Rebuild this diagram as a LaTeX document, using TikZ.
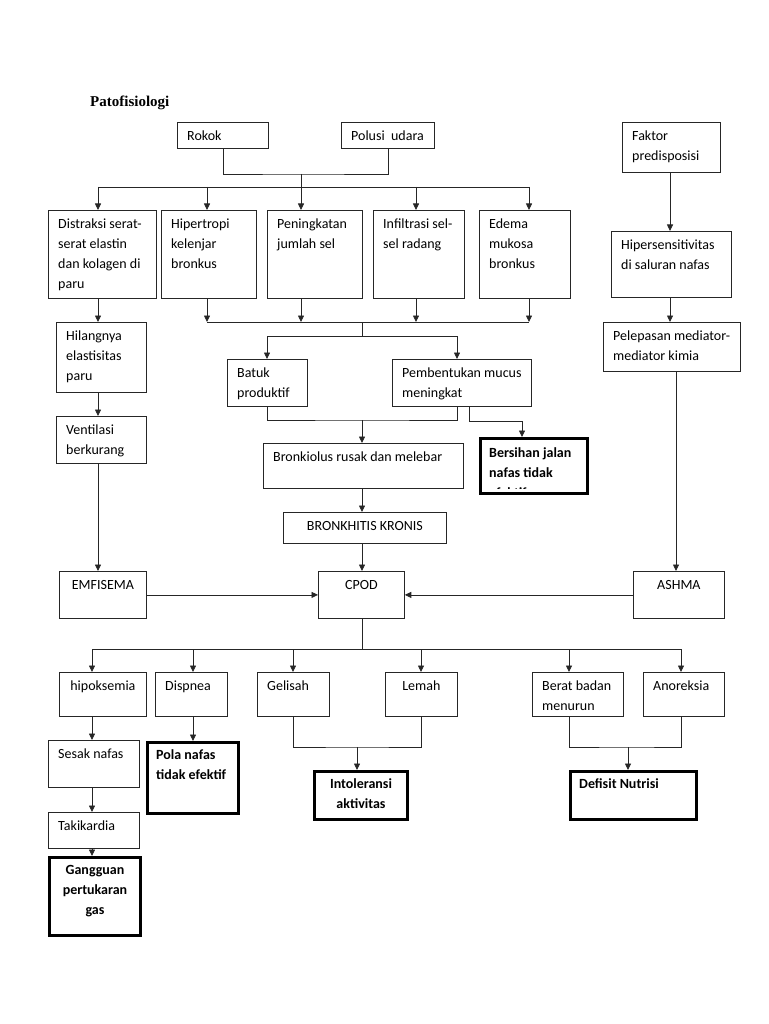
\documentclass[tikz,border=0pt]{standalone}
\usepackage{fontspec}
\setmainfont{Carlito}
\newfontfamily\titlefont{Liberation Serif}
\usetikzlibrary{arrows.meta,calc}

\tikzset{
  ln/.style={draw=black!85, line width=0.8pt},
  arr/.style={ln, -{Triangle[length=6.5pt,width=6pt]}},
  box/.style={draw=black!85, line width=0.8pt, rectangle, inner sep=0pt, fill=white},
  heavybox/.style={box, draw=black, line width=3pt},
  txt/.style={inner sep=0pt, font=\fontsize{14}{20}\selectfont, text=black},
  txtb/.style={txt, font=\fontsize{14}{20}\selectfont\bfseries},
}

% name, x1, y1, x2, y2, style
\newcommand\bxn[6]{%
  \node[#6, anchor=north west, minimum width={#4pt-#2pt}, minimum height={#5pt-#3pt}] (#1) at (#2,#3) {};}
% left aligned text in box
\newcommand\boxtextl[3][txt]{%
  \node[#1, align=left, anchor=north west] (#2-t) at ([xshift=10pt,yshift=-4pt]#2.north west) {\strut #3};}
% centered text in box
\newcommand\boxtextc[3][txt]{%
  \node[#1, align=center, anchor=north] (#2-t) at ([yshift=-4pt]#2.north) {\strut #3};}

\begin{document}
\begin{tikzpicture}[x=1pt, y=-1pt]
\fill[white] (0,0) rectangle (768,1024);
\useasboundingbox (0,0) rectangle (768,1024);

\node[font=\titlefont\bfseries\fontsize{15}{18}\selectfont, anchor=west, inner sep=0pt] (title) at (90,103) {Patofisiologi};

% ---- boxes ----
\bxn{rokok}{177}{122}{268}{148}{box}
\bxn{polusi}{341}{122}{434}{148}{box}
\bxn{faktor}{622}{122}{720}{172}{box}

\bxn{distraksi}{48}{210}{156}{298}{box}
\bxn{hipertropi}{161}{210}{256}{298}{box}
\bxn{peningkatan}{267}{210}{362}{298}{box}
\bxn{infiltrasi}{373}{210}{464}{298}{box}
\bxn{edema}{479}{210}{570}{298}{box}

\bxn{hipersens}{611}{231}{731}{297}{box}
\bxn{pelepasan}{603}{322}{740}{371}{box}

\bxn{hilangnya}{56}{322}{146}{392}{box}
\bxn{ventilasi}{56}{416}{146}{463}{box}

\bxn{batuk}{227}{359}{307}{406}{box}
\bxn{pembentukan}{392}{359}{531}{406}{box}
\bxn{bronkiolus}{263}{443}{463}{488}{box}
\bxn{bersihan}{479}{437}{586}{492}{heavybox}
\bxn{bronkhitis}{283}{512}{446}{543}{box}

\bxn{emfisema}{59}{571}{146}{618}{box}
\bxn{cpod}{318}{571}{404}{618}{box}
\bxn{ashma}{633}{571}{724}{618}{box}

\bxn{hipoksemia}{59}{672}{146}{716}{box}
\bxn{dispnea}{155}{672}{227}{716}{box}
\bxn{gelisah}{257}{672}{329}{716}{box}
\bxn{lemah}{385}{672}{457}{716}{box}
\bxn{berat}{532}{672}{623}{716}{box}
\bxn{anoreksia}{643}{672}{724}{716}{box}

\bxn{sesak}{48}{740}{139}{787}{box}
\bxn{pola}{146}{741}{237}{812}{heavybox}
\bxn{takikardia}{48}{812}{139}{848}{box}
\bxn{gangguan}{48}{856}{139}{934}{heavybox}
\bxn{intoleransi}{313}{770}{406}{818}{heavybox}
\bxn{defisit}{569}{770}{695}{818}{heavybox}

% ---- texts ----
\boxtextl{rokok}{Rokok}
\boxtextl{polusi}{Polusi\ \ udara}
\boxtextl{faktor}{Faktor\\predisposisi}
\boxtextl{distraksi}{Distraksi serat-\\serat elastin\\dan kolagen di\\paru}
\boxtextl{hipertropi}{Hipertropi\\kelenjar\\bronkus}
\boxtextl{peningkatan}{Peningkatan\\jumlah sel}
\boxtextl{infiltrasi}{Infiltrasi sel-\\sel radang}
\boxtextl{edema}{Edema\\mukosa\\bronkus}
\boxtextl{hipersens}{Hipersensitivitas\\di saluran nafas}
\boxtextl{pelepasan}{Pelepasan mediator-\\mediator kimia}
\boxtextl{hilangnya}{Hilangnya\\elastisitas\\paru}
\boxtextl{ventilasi}{Ventilasi\\berkurang}
\boxtextl{batuk}{Batuk\\produktif}
\boxtextl{pembentukan}{Pembentukan mucus\\meningkat}
\boxtextl{bronkiolus}{Bronkiolus rusak dan melebar}
\begin{scope}
  \clip (bersihan.north west) rectangle ([yshift=7pt]bersihan.south east);
  \node[txtb, align=left, anchor=north west] (bersihan-t) at ([xshift=10pt,yshift=-6pt]bersihan.north west) {\strut Bersihan jalan\\nafas tidak\\efektif};
\end{scope}
\boxtextc{bronkhitis}{BRONKHITIS KRONIS}
\boxtextc{emfisema}{EMFISEMA}
\boxtextc{cpod}{CPOD}
\boxtextc{ashma}{ASHMA}
\boxtextc{hipoksemia}{hipoksemia}
\boxtextl{dispnea}{Dispnea}
\boxtextl{gelisah}{Gelisah}
\boxtextc{lemah}{Lemah}
\boxtextl{berat}{Berat badan\\menurun}
\boxtextl{anoreksia}{Anoreksia}
\boxtextl{sesak}{Sesak nafas}
\boxtextl[txtb]{pola}{Pola nafas\\tidak efektif}
\boxtextl{takikardia}{Takikardia}
\boxtextc[txtb]{gangguan}{Gangguan\\pertukaran\\gas}
\boxtextc[txtb]{intoleransi}{Intoleransi\\aktivitas}
\boxtextl[txtb]{defisit}{Defisit Nutrisi}

% ---- connectors ----
\coordinate (jt) at (301,174);
\coordinate (bt) at (301,187);
\coordinate (btL) at (98,187);
\coordinate (bt2) at (207,187);
\coordinate (bt4) at (416,187);
\coordinate (btR) at (529,187);
\draw[ln] (rokok.south) |- (jt) -| (polusi.south);
\draw[ln] (jt) -- (bt);
\draw[ln] (btL) -- (btR);
\draw[arr] (btL) -- (btL |- distraksi.north);
\draw[arr] (bt2) -- (bt2 |- hipertropi.north);
\draw[arr] (bt) -- (bt |- peningkatan.north);
\draw[arr] (bt4) -- (bt4 |- infiltrasi.north);
\draw[arr] (btR) -- (btR |- edema.north);

\draw[arr] (btL |- distraksi.south) -- (btL |- hilangnya.north);
\draw[arr] (btL |- hilangnya.south) -- (btL |- ventilasi.north);
\draw[arr] (btL |- ventilasi.south) -- (btL |- emfisema.north);

\coordinate (bm) at (362,322);
\coordinate (bm2) at (362,336);
\coordinate (bmL) at (267,336);
\coordinate (bmR) at (457,336);
\draw[ln] (bt2 |- bm) -- (btR |- bm);
\draw[arr] (bt2 |- hipertropi.south) -- (bt2 |- bm);
\draw[arr] (bt |- peningkatan.south) -- (bt |- bm);
\draw[arr] (bt4 |- infiltrasi.south) -- (bt4 |- bm);
\draw[arr] (btR |- edema.south) -- (btR |- bm);
\draw[ln] (bm) -- (bm2);
\draw[ln] (bmL) -- (bmR);
\draw[arr] (bmL) -- (bmL |- batuk.north);
\draw[arr] (bmR) -- (bmR |- pembentukan.north);

\coordinate (bb) at (362,420);
\draw[ln] (bmL |- batuk.south) |- (bb) -| (bmR |- pembentukan.south);
\draw[arr] (bb) -- (bb |- bronkiolus.north);
\coordinate (bp) at (469,421);
\coordinate (bp2) at (522,421);
\draw[arr] (bp |- pembentukan.south) |- (bp2) -- (bp2 |- bersihan.north);
\draw[arr] (bb |- bronkiolus.south) -- (bb |- bronkhitis.north);
\draw[arr] (bb |- bronkhitis.south) -- (bb |- cpod.north);

\coordinate (rc) at (670,172);
\coordinate (ra) at (676,371);
\draw[arr] (rc |- faktor.south) -- (rc |- hipersens.north);
\draw[arr] (rc |- hipersens.south) -- (rc |- pelepasan.north);
\draw[arr] (ra |- pelepasan.south) -- (ra |- ashma.north);

\draw[arr] (emfisema.east) -- (cpod.west);
\draw[arr] (ashma.west) -- (cpod.east);

\coordinate (bc) at (362,649);
\coordinate (bc1) at (92,649);
\coordinate (bc2) at (193,649);
\coordinate (bc3) at (293,649);
\coordinate (bc4) at (421,649);
\coordinate (bc5) at (569,649);
\coordinate (bc6) at (681,649);
\draw[ln] (bb |- cpod.south) -- (bc);
\draw[ln] (bc1) -- (bc6);
\draw[arr] (bc1) -- (bc1 |- hipoksemia.north);
\draw[arr] (bc2) -- (bc2 |- dispnea.north);
\draw[arr] (bc3) -- (bc3 |- gelisah.north);
\draw[arr] (bc4) -- (bc4 |- lemah.north);
\draw[arr] (bc5) -- (bc5 |- berat.north);
\draw[arr] (bc6) -- (bc6 |- anoreksia.north);

\draw[arr] (bc1 |- hipoksemia.south) -- (bc1 |- sesak.north);
\draw[arr] (bc2 |- dispnea.south) -- (bc2 |- pola.north);
\draw[arr] (bc1 |- sesak.south) -- (bc1 |- takikardia.north);
\draw[arr] (bc1 |- takikardia.south) -- (bc1 |- gangguan.north);

\coordinate (bg) at (357,747);
\coordinate (bn) at (628,747);
\draw[ln] (bc3 |- gelisah.south) |- (bg) -| (bc4 |- lemah.south);
\draw[arr] (bg) -- (bg |- intoleransi.north);
\draw[ln] (bc5 |- berat.south) |- (bn) -| (bc6 |- anoreksia.south);
\draw[arr] (bn) -- (bn |- defisit.north);
\end{tikzpicture}
\end{document}
